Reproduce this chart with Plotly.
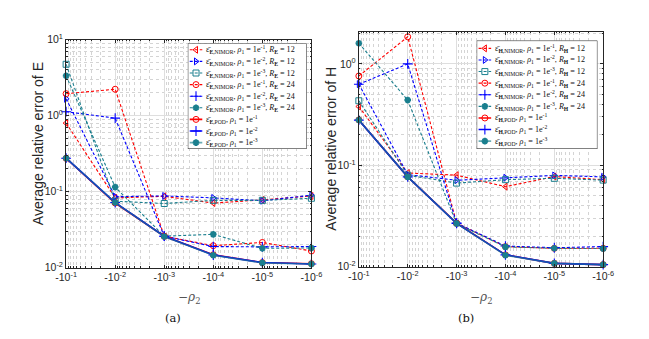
import plotly.graph_objects as go

# -rho_2 values on the x axis (shown as -10^k)
rho2 = [1e-1, 1e-2, 1e-3, 1e-4, 1e-5, 1e-6]
rho2_labels = ["-10<sup>-1</sup>", "-10<sup>-2</sup>", "-10<sup>-3</sup>",
               "-10<sup>-4</sup>", "-10<sup>-5</sup>", "-10<sup>-6</sup>"]

# Average relative error of E
E_nimor_r12_p1 = [0.80, 0.083, 0.087, 0.071, 0.078, 0.088]
E_nimor_r12_p2 = [1.67, 0.086, 0.088, 0.083, 0.076, 0.090]
E_nimor_r12_p3 = [4.75, 0.075, 0.070, 0.077, 0.077, 0.082]
E_nimor_r24_p1 = [1.95, 2.23, 0.026, 0.0195, 0.0215, 0.0166]
E_nimor_r24_p2 = [1.13, 0.93, 0.026, 0.0190, 0.0188, 0.0190]
E_nimor_r24_p3 = [3.35, 0.115, 0.026, 0.0275, 0.0180, 0.0182]
E_pod_p1 = [0.275, 0.071, 0.026, 0.0148, 0.0117, 0.0113]
E_pod_p2 = [0.276, 0.072, 0.026, 0.0147, 0.0117, 0.0112]
E_pod_p3 = [0.277, 0.072, 0.0258, 0.0146, 0.0116, 0.0112]

# Average relative error of H
H_nimor_r12_p1 = [0.38, 0.084, 0.080, 0.0616, 0.0775, 0.0722]
H_nimor_r12_p2 = [0.632, 0.081, 0.0713, 0.0755, 0.0795, 0.077]
H_nimor_r12_p3 = [0.433, 0.080, 0.0668, 0.0722, 0.0745, 0.0715]
H_nimor_r24_p1 = [0.76, 1.85, 0.0269, 0.0158, 0.0152, 0.0152]
H_nimor_r24_p2 = [0.63, 1.00, 0.0269, 0.0160, 0.0154, 0.0158]
H_nimor_r24_p3 = [1.60, 0.44, 0.0266, 0.0157, 0.0152, 0.0151]
H_pod_p1 = [0.280, 0.077, 0.0269, 0.0131, 0.0108, 0.0105]
H_pod_p2 = [0.279, 0.077, 0.0268, 0.0131, 0.0108, 0.0105]
H_pod_p3 = [0.280, 0.077, 0.0268, 0.0130, 0.0108, 0.0105]

RED, BLUE, TEAL = "#ff0000", "#0000ff", "#1a7f8e"
AX = "#262626"
W, H = 649, 339

# (series style) -> colour, marker, dashed?
styles = [
    (RED, "triangle-left-open", True),
    (BLUE, "triangle-right-open", True),
    (TEAL, "square-open", True),
    (RED, "circle-open", True),
    (BLUE, "cross-thin-open", True),
    (TEAL, "asterisk-open", True),
    (RED, "circle-open", False),
    (BLUE, "cross-thin-open", False),
    (TEAL, "asterisk-open", False),
]


def label(field, method, p, r=None):
    s = (f"ε̄<sub><b>{field}</b>,{method}</sub>, <i>ρ</i><sub>1</sub> = "
         f"1e<sup>-{p}</sup>")
    if r is not None:
        s += f", <i>R</i><sub><b>{field}</b></sub> = {r}"
    return s


def labels_for(field):
    return [label(field, "NIMOR", 1, 12), label(field, "NIMOR", 2, 12),
            label(field, "NIMOR", 3, 12), label(field, "NIMOR", 1, 24),
            label(field, "NIMOR", 2, 24), label(field, "NIMOR", 3, 24),
            label(field, "POD", 1), label(field, "POD", 2), label(field, "POD", 3)]


E_series = [E_nimor_r12_p1, E_nimor_r12_p2, E_nimor_r12_p3,
            E_nimor_r24_p1, E_nimor_r24_p2, E_nimor_r24_p3,
            E_pod_p1, E_pod_p2, E_pod_p3]
H_series = [H_nimor_r12_p1, H_nimor_r12_p2, H_nimor_r12_p3,
            H_nimor_r24_p1, H_nimor_r24_p2, H_nimor_r24_p3,
            H_pod_p1, H_pod_p2, H_pod_p3]


def marker_of(color, symbol, size=6):
    if symbol == "asterisk-open":
        return dict(symbol=symbol, size=5.5, color=color,
                    line=dict(color=color, width=2.0))
    if symbol == "cross-thin-open":
        return dict(symbol=symbol, size=7, color=color,
                    line=dict(color=color, width=1.1))
    return dict(symbol=symbol, size=size, color=color,
                line=dict(color=color, width=1.0))


def line_of(color, dashed):
    if dashed:
        return dict(color=color, width=1.1, dash="3px,2px")
    if color == TEAL:
        # solid POD line sits over the blue one and blends with it
        return dict(color="rgba(26,127,142,0.65)", width=1.6)
    return dict(color=color, width=1.6)


fig = go.Figure()

for series, names, xa, ya in ((E_series, labels_for("E"), "x", "y"),
                              (H_series, labels_for("H"), "x2", "y2")):
    for vals, name, (c, sym, dashed) in zip(series, names, styles):
        fig.add_trace(go.Scatter(
            x=rho2, y=vals, name=name, xaxis=xa, yaxis=ya, mode="lines+markers",
            line=line_of(c, dashed), marker=marker_of(c, sym),
            showlegend=False, cliponaxis=False))

# Plot-area geometry (pixels)
L1 = (57, 311, 33, 271)   # left, right, top, bottom
L2 = (360, 613, 25, 270)


def xdom(b):
    return [b[0] / W, b[1] / W]


def ydom(b):
    return [1 - b[3] / H, 1 - b[2] / H]


tickfont = dict(family="Liberation Sans, Arial", size=10.5, color=AX)
minor = dict(tickmode="linear", dtick="D1", ticks="inside", ticklen=1.5,
             tickcolor=AX, showgrid=True, gridcolor="#d4d4d4", griddash="dot",
             gridwidth=0.8)
common_x = dict(type="log", range=[-0.999, -6.001], tickmode="array",
                tickvals=rho2, ticktext=rho2_labels, ticks="inside", ticklen=3,
                tickcolor=AX, showline=True, linecolor=AX, linewidth=1,
                mirror="allticks", showgrid=True, gridcolor="#dedede",
                gridwidth=1, tickfont=tickfont, zeroline=False, minor=minor)
common_y = dict(type="log", tickmode="array", ticks="inside", ticklen=3,
                tickcolor=AX, showline=True, linecolor=AX, linewidth=1,
                mirror="allticks", showgrid=True, gridcolor="#dedede",
                gridwidth=1, tickfont=tickfont, zeroline=False, minor=minor)

fig.update_layout(
    xaxis=dict(common_x, domain=xdom(L1), anchor="y"),
    yaxis=dict(common_y, domain=ydom(L1), anchor="x", range=[-2.001, 1.001],
               tickvals=[1e-2, 1e-1, 1, 10],
               ticktext=["10<sup>-2</sup>", "10<sup>-1</sup>", "10<sup>0</sup>",
                         "10<sup>1</sup>"]),
    xaxis2=dict(common_x, domain=xdom(L2), anchor="y2"),
    yaxis2=dict(common_y, domain=ydom(L2), anchor="x2", range=[-2.001, 0.315],
                tickvals=[1e-2, 1e-1, 1],
                ticktext=["10<sup>-2</sup>", "10<sup>-1</sup>", "10<sup>0</sup>"]),
)

# Legend boxes drawn on overlay axes measured in pixels
legend_boxes = [((183, 306, 37, 147), labels_for("E"), "x3", "y3"),
                ((482, 607, 34, 147), labels_for("H"), "x4", "y4")]
legfont = dict(family="Liberation Serif", size=8.1, color="#111111")
for (bl, br, bt, bb), names, xa, ya in legend_boxes:
    wpx, hpx = br - bl, bb - bt
    n = len(names)
    step = 12.1
    y0 = hpx / 2 - step * (n - 1) / 2
    fig.add_trace(go.Scatter(
        x=[0, wpx, wpx, 0, 0], y=[0, 0, hpx, hpx, 0], xaxis=xa, yaxis=ya,
        mode="lines", fill="toself", fillcolor="white",
        line=dict(color=AX, width=1), showlegend=False, hoverinfo="skip"))
    for i, (name, (c, sym, dashed)) in enumerate(zip(names, styles)):
        yy = y0 + step * i
        fig.add_trace(go.Scatter(
            x=[2, 15], y=[yy, yy], xaxis=xa, yaxis=ya, mode="lines",
            line=line_of(c, dashed), showlegend=False, hoverinfo="skip"))
        fig.add_trace(go.Scatter(
            x=[8.5], y=[yy], xaxis=xa, yaxis=ya, mode="markers",
            marker=marker_of(c, sym), showlegend=False, hoverinfo="skip"))
        fig.add_annotation(x=16.5, y=yy, xref=xa, yref=ya, text=name,
                           showarrow=False, xanchor="left", yanchor="middle",
                           font=legfont)
    idx = xa[1:]
    fig.update_layout(**{
        f"xaxis{idx}": dict(domain=[bl / W, br / W], range=[0, wpx],
                             visible=False, fixedrange=True, anchor=ya),
        f"yaxis{idx}": dict(domain=[1 - bb / H, 1 - bt / H], range=[hpx, 0],
                             visible=False, fixedrange=True, anchor=xa),
    })

# Axis titles and captions
title_font = dict(family="Liberation Sans, Arial", size=14, color=AX)
serif = dict(family="DejaVu Serif", size=11.5, color="#111111")
for cx, cy, txt in ((28, 142, "Average relative error of E"),
                    (331, 147, "Average relative error of H")):
    fig.add_annotation(x=cx / W, y=1 - cy / H, xref="paper", yref="paper",
                       text=txt, textangle=-90, showarrow=False,
                       font=title_font, xanchor="center", yanchor="middle")
for b, cap in ((L1, "(a)"), (L2, "(b)")):
    cx = (b[0] + b[1]) / 2
    fig.add_annotation(x=cx / W, y=1 - 302 / H, xref="paper", yref="paper",
                       text="−<i>ρ</i><sub>2</sub>", showarrow=False,
                       font=dict(family="DejaVu Serif", size=12, color="#555555"),
                       xanchor="center", yanchor="middle")
    fig.add_annotation(x=(cx - 16) / W, y=1 - 323 / H, xref="paper", yref="paper",
                       text=cap, showarrow=False, font=serif,
                       xanchor="center", yanchor="middle")

fig.update_layout(width=W, height=H, autosize=False,
                  margin=dict(l=0, r=0, t=0, b=0, pad=0),
                  paper_bgcolor="white", plot_bgcolor="white",
                  showlegend=False)

fig.write_html("out.html")
